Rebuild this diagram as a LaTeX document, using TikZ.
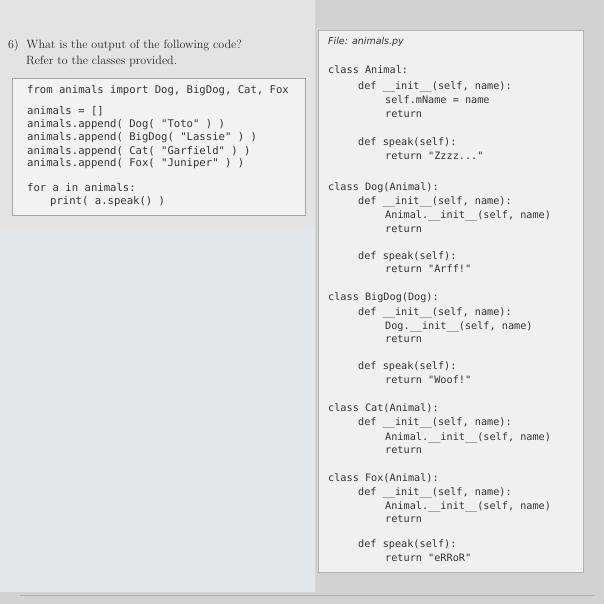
\documentclass[tikz,border=0pt]{standalone}
\usepackage{fontspec}
\setmonofont{DejaVu Sans Mono}
\setsansfont{DejaVu Sans}
\begin{document}
\begin{tikzpicture}[x=1pt,y=-1pt,
  lc/.style={anchor=base west,inner sep=0pt,font=\ttfamily\fontsize{10.6}{11}\selectfont,text=black!80},
  rc/.style={anchor=base west,inner sep=0pt,font=\ttfamily\fontsize{10.2}{11}\selectfont,text=black!80},
  q/.style={anchor=base west,inner sep=0pt,font=\fontsize{12}{13}\selectfont,text=black!85}]
\fill[gray!35] (0,0) rectangle (604,604);
\fill[gray!22] (0,0) rectangle (315,228);
\fill[cyan!12!gray!22] (0,228) rectangle (315,592);
\fill[gray!12] (318,30) rectangle (583,572);
\draw[gray!60,line width=0.8pt] (318,30) rectangle (583,572);
\fill[gray!10] (12,78) rectangle (305,215);
\draw[gray!70,line width=0.8pt] (12,78) rectangle (305,215);
\draw[gray!60] (20,595) -- (595,595);
\node[q] (q1) at (8,49) {6)\ \ What is the output of the following code?};
\node[q] (q2) at (26,65) {Refer to the classes provided.};
\node[lc] (l1) at (27,94) {from animals import Dog, BigDog, Cat, Fox};
\node[lc] (l2) at (27,115) {animals = []};
\node[lc] (l3) at (27,128) {animals.append( Dog( "Toto" ) )};
\node[lc] (l4) at (27,141) {animals.append( BigDog( "Lassie" ) )};
\node[lc] (l5) at (27,154) {animals.append( Cat( "Garfield" ) )};
\node[lc] (l6) at (27,167) {animals.append( Fox( "Juniper" ) )};
\node[lc] (l7) at (27,191) {for a in animals:};
\node[lc] (l8) at (50,204) {print( a.speak() )};
\node[anchor=base west,inner sep=0pt,font=\sffamily\itshape\fontsize{9.5}{11}\selectfont,text=black!80] (f) at (328,45) {File: animals.py};
\node[rc] (a1) at (328,74) {class Animal:};
\node[rc] (a2) at (358,90) {def \_\_init\_\_(self, name):};
\node[rc] (a3) at (385,104) {self.mName = name};
\node[rc] (a4) at (385,118) {return};
\node[rc] (a5) at (358,146) {def speak(self):};
\node[rc] (a6) at (385,160) {return "Zzzz..."};
\node[rc] (d1) at (328,190) {class Dog(Animal):};
\node[rc] (d2) at (358,204) {def \_\_init\_\_(self, name):};
\node[rc] (d3) at (385,218) {Animal.\_\_init\_\_(self, name)};
\node[rc] (d4) at (385,232) {return};
\node[rc] (d5) at (358,259) {def speak(self):};
\node[rc] (d6) at (385,272) {return "Arff!"};
\node[rc] (b1) at (328,300) {class BigDog(Dog):};
\node[rc] (b2) at (358,315) {def \_\_init\_\_(self, name):};
\node[rc] (b3) at (385,329) {Dog.\_\_init\_\_(self, name)};
\node[rc] (b4) at (385,342) {return};
\node[rc] (b5) at (358,369) {def speak(self):};
\node[rc] (b6) at (385,383) {return "Woof!"};
\node[rc] (c1) at (328,411) {class Cat(Animal):};
\node[rc] (c2) at (358,425) {def \_\_init\_\_(self, name):};
\node[rc] (c3) at (385,440) {Animal.\_\_init\_\_(self, name)};
\node[rc] (c4) at (385,453) {return};
\node[rc] (x1) at (328,481) {class Fox(Animal):};
\node[rc] (x2) at (358,495) {def \_\_init\_\_(self, name):};
\node[rc] (x3) at (385,509) {Animal.\_\_init\_\_(self, name)};
\node[rc] (x4) at (385,522) {return};
\node[rc] (x5) at (358,547) {def speak(self):};
\node[rc] (x6) at (385,561) {return "eRRoR"};
\end{tikzpicture}
\end{document}
